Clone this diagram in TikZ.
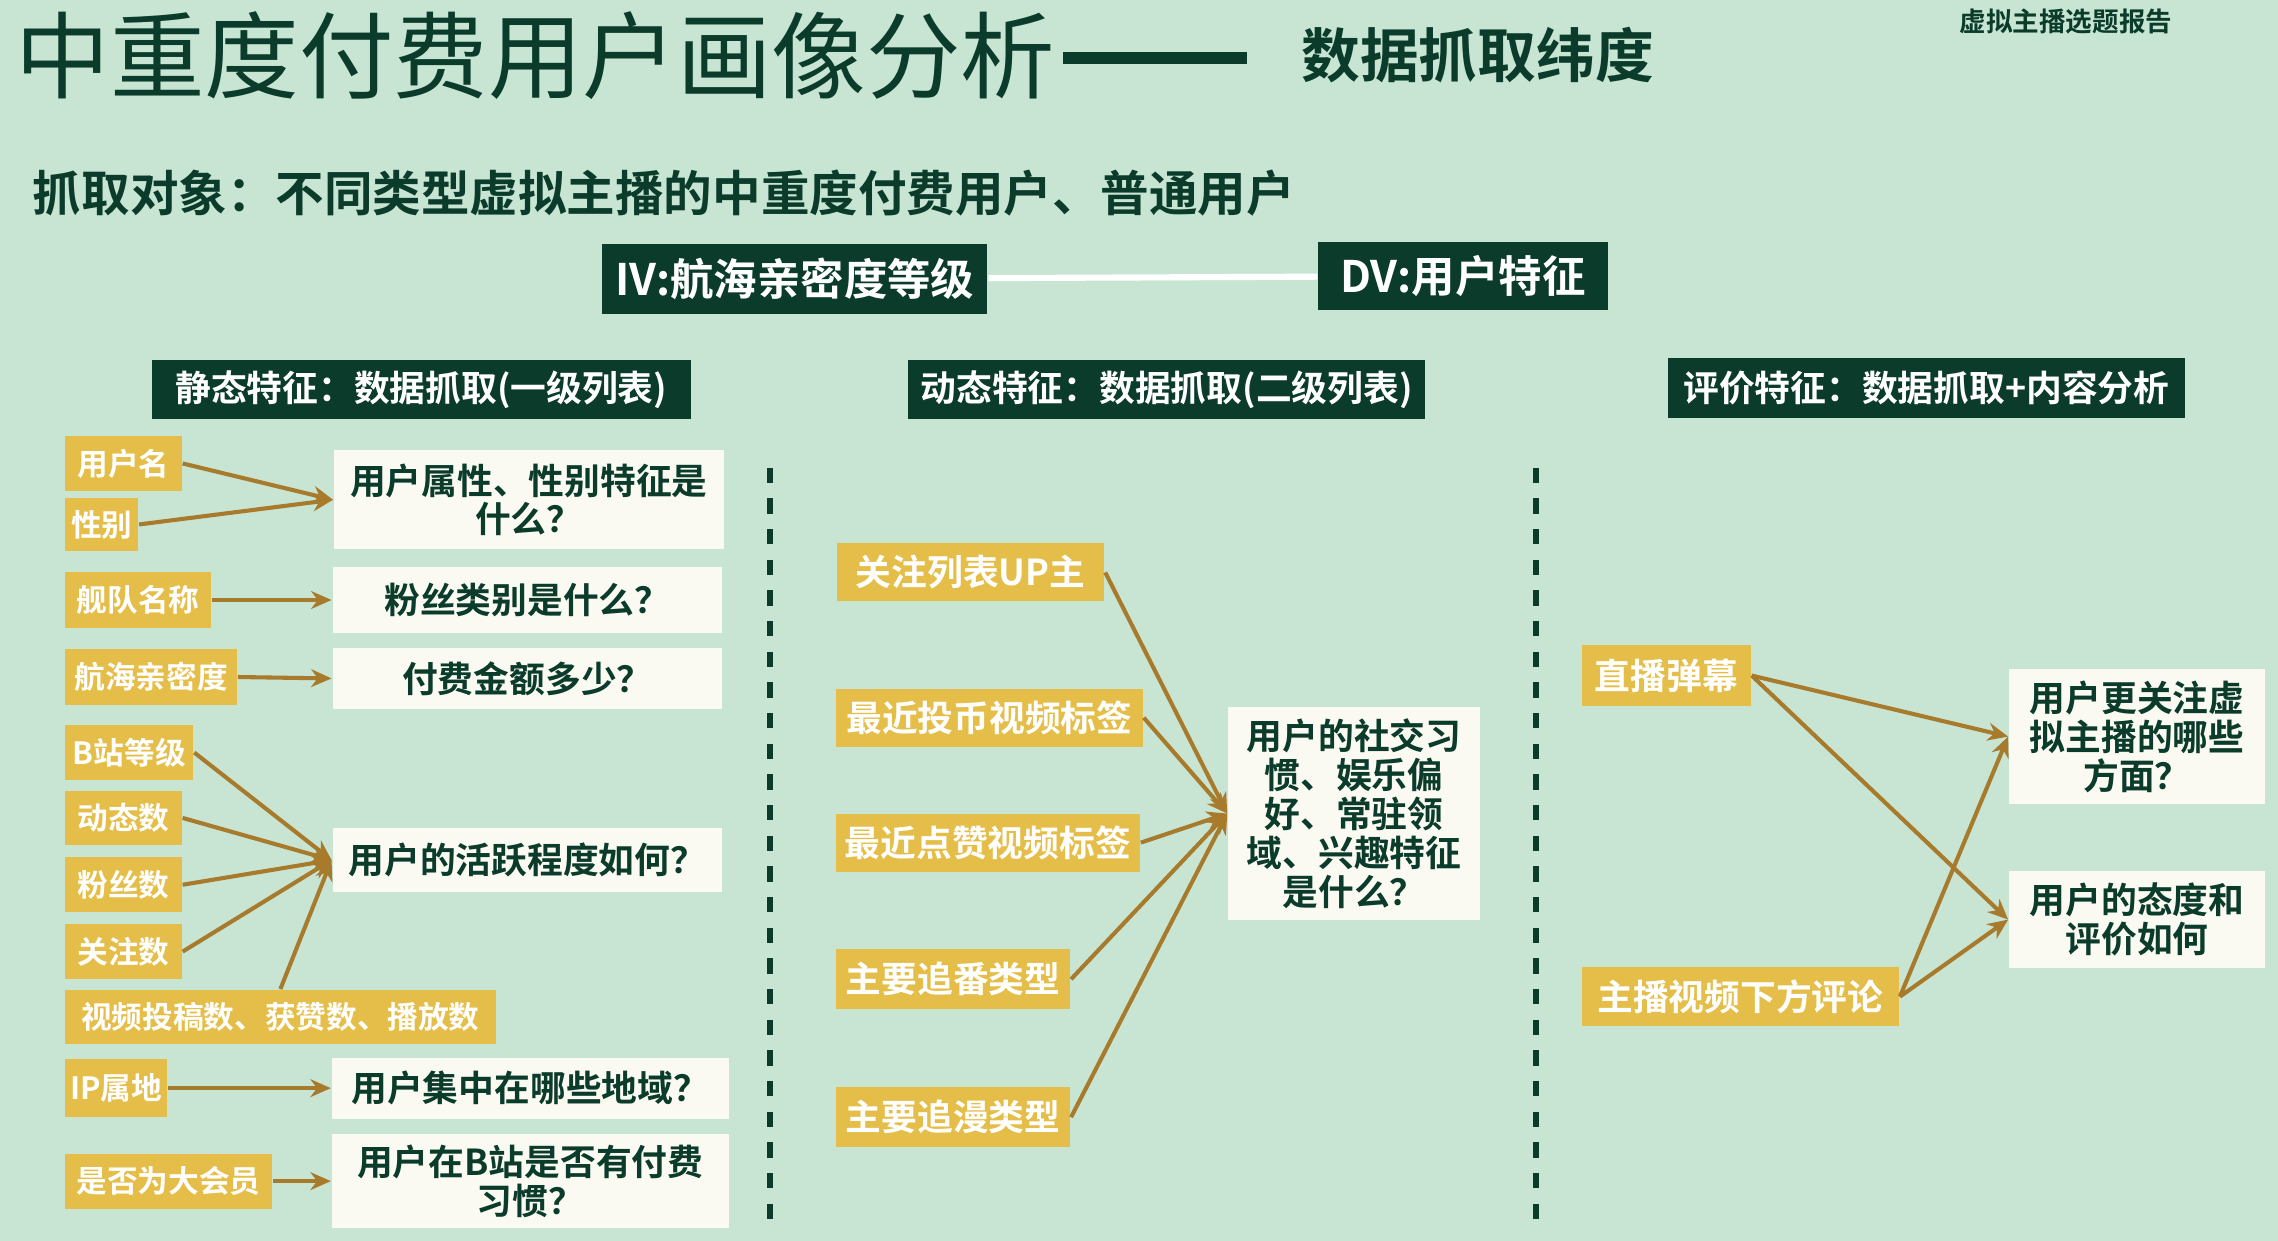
\documentclass[tikz,border=0pt]{standalone}
\usepackage{fontspec}
\setmainfont{Noto Sans CJK SC}[BoldFont={Noto Sans CJK SC Bold}]
\usetikzlibrary{arrows.meta}
\definecolor{bg}{HTML}{C8E5D4}
\definecolor{dg}{HTML}{0B3B2A}
\definecolor{yl}{HTML}{E4BE48}
\definecolor{wb}{HTML}{FAFAF2}
\definecolor{ar}{HTML}{A87A2C}
\tikzset{
 hdr/.style={fill=dg,text=white,font=\bfseries\fontsize{7}{9}\selectfont,inner sep=0,align=center},
 yb/.style={fill=yl,text=white,font=\bfseries\fontsize{6}{7}\selectfont,inner sep=0,align=center},
 ybm/.style={yb,font=\bfseries\fontsize{7}{8}\selectfont},
 wbx/.style={fill=wb,text=dg,font=\bfseries\fontsize{7}{7.6}\selectfont,inner sep=0,align=center},
 arr/.style={draw=ar,line width=0.8pt,-{Stealth[length=4pt,width=3.5pt]}},
}
\begin{document}
\begin{tikzpicture}[x=0.01cm,y=-0.01cm]
\fill[bg] (0,0) rectangle (1568,854);
\useasboundingbox (0,0) rectangle (1568,854);
\node[anchor=west,text=dg,font=\fontsize{18.5}{20}\selectfont,inner sep=0] (title) at (10,38) {中重度付费用户画像分析};
\draw[dg,line width=2.2pt] (732,40) -- (858,40);
\node[anchor=west,text=dg,font=\bfseries\fontsize{11.5}{13}\selectfont,inner sep=0] (sub) at (895,38) {数据抓取纬度};
\node[text=dg,font=\bfseries\fontsize{5.2}{6}\selectfont,inner sep=0] (rep) at (1422,15) {虚拟主播选题报告};
\node[anchor=west,text=dg,font=\bfseries\fontsize{9.5}{11}\selectfont,inner sep=0] (obj) at (22,133) {抓取对象：不同类型虚拟主播的中重度付费用户、普通用户};
\node[hdr,minimum width=2.65cm,minimum height=0.48cm,font=\bfseries\fontsize{8.5}{10}\selectfont] (iv) at (547,192) {IV:航海亲密度等级};
\node[hdr,minimum width=1.99cm,minimum height=0.47cm,font=\bfseries\fontsize{8.5}{10}\selectfont] (dv) at (1007,190) {DV:用户特征};
\draw[white,line width=1.2pt] (iv) -- (dv);
\node[hdr,minimum width=3.71cm,minimum height=0.41cm] (h1) at (290,268) {静态特征：数据抓取(一级列表)};
\node[hdr,minimum width=3.56cm,minimum height=0.41cm] (h2) at (803,268) {动态特征：数据抓取(二级列表)};
\node[hdr,minimum width=3.56cm,minimum height=0.41cm] (h3) at (1326,267) {评价特征：数据抓取+内容分析};
\draw[dg,dashed,line width=1.2pt] (530,322) -- (530,840);
\draw[dg,dashed,line width=1.2pt] (1057,322) -- (1057,840);
\node[yb,minimum width=0.80cm,minimum height=0.38cm] (a1) at (85,319) {用户名};
\node[yb,minimum width=0.50cm,minimum height=0.37cm] (a2) at (70,361) {性别};
\node[yb,minimum width=1.00cm,minimum height=0.38cm] (a3) at (95,413) {舰队名称};
\node[yb,minimum width=1.18cm,minimum height=0.38cm] (a4) at (104,466) {航海亲密度};
\node[yb,minimum width=0.88cm,minimum height=0.38cm] (a5) at (89,518) {B站等级};
\node[yb,minimum width=0.80cm,minimum height=0.37cm] (a6) at (85,563) {动态数};
\node[yb,minimum width=0.80cm,minimum height=0.38cm] (a7) at (85,609) {粉丝数};
\node[yb,minimum width=0.80cm,minimum height=0.38cm] (a8) at (85,655) {关注数};
\node[yb,minimum width=2.97cm,minimum height=0.37cm] (a9) at (193,700) {视频投稿数、获赞数、播放数};
\node[yb,minimum width=0.70cm,minimum height=0.40cm] (a10) at (80,749) {IP属地};
\node[yb,minimum width=1.42cm,minimum height=0.38cm] (a11) at (116,813) {是否为大会员};
\node[wbx,minimum width=2.68cm,minimum height=0.68cm] (b1) at (364,344) {用户属性、性别特征是\\什么？};
\node[wbx,minimum width=2.68cm,minimum height=0.45cm] (b2) at (363,413) {粉丝类别是什么？};
\node[wbx,minimum width=2.68cm,minimum height=0.42cm] (b3) at (363,467) {付费金额多少？};
\node[wbx,minimum width=2.68cm,minimum height=0.44cm] (b4) at (363,592) {用户的活跃程度如何？};
\node[wbx,minimum width=2.73cm,minimum height=0.42cm] (b5) at (365,749) {用户集中在哪些地域？};
\node[wbx,minimum width=2.73cm,minimum height=0.65cm] (b6) at (365,813) {用户在B站是否有付费\\习惯？};
\draw[arr] (a1.east) -- (b1.west);
\draw[arr] (a2.east) -- (b1.west);
\draw[arr] (a3.east) -- (b2.west);
\draw[arr] (a4.east) -- (b3.west);
\draw[arr] (a5.east) -- (b4.west);
\draw[arr] (a6.east) -- (b4.west);
\draw[arr] (a7.east) -- (b4.west);
\draw[arr] (a8.east) -- (b4.west);
\draw[arr] (a9.north) -- (b4.west);
\draw[arr] (a10.east) -- (b5.west);
\draw[arr] (a11.east) -- (b6.west);
\node[ybm,minimum width=1.84cm,minimum height=0.40cm] (m1) at (668,394) {关注列表UP主};
\node[ybm,minimum width=2.11cm,minimum height=0.40cm] (m2) at (681,494) {最近投币视频标签};
\node[ybm,minimum width=2.09cm,minimum height=0.40cm] (m3) at (680,580) {最近点赞视频标签};
\node[ybm,minimum width=1.61cm,minimum height=0.41cm] (m4) at (656,674) {主要追番类型};
\node[ybm,minimum width=1.61cm,minimum height=0.41cm] (m5) at (656,769) {主要追漫类型};
\node[wbx,minimum width=1.73cm,minimum height=1.47cm] (mc) at (932,560) {用户的社交习\\惯、娱乐偏\\好、常驻领\\域、兴趣特征\\是什么？};
\foreach \m in {m1,m2,m3,m4,m5} \draw[arr] (\m.east) -- (mc.west);
\node[ybm,minimum width=1.16cm,minimum height=0.42cm] (r1) at (1147,465) {直播弹幕};
\node[ybm,minimum width=2.18cm,minimum height=0.41cm] (r2) at (1198,686) {主播视频下方评论};
\node[wbx,minimum width=1.76cm,minimum height=0.93cm] (q1) at (1471,507) {用户更关注虚\\拟主播的哪些\\方面？};
\node[wbx,minimum width=1.76cm,minimum height=0.67cm] (q2) at (1471,633) {用户的态度和\\评价如何};
\draw[arr] (r1.east) -- (q1.west);
\draw[arr] (r1.east) -- (q2.west);
\draw[arr] (r2.east) -- (q1.west);
\draw[arr] (r2.east) -- (q2.west);
\end{tikzpicture}
\end{document}
